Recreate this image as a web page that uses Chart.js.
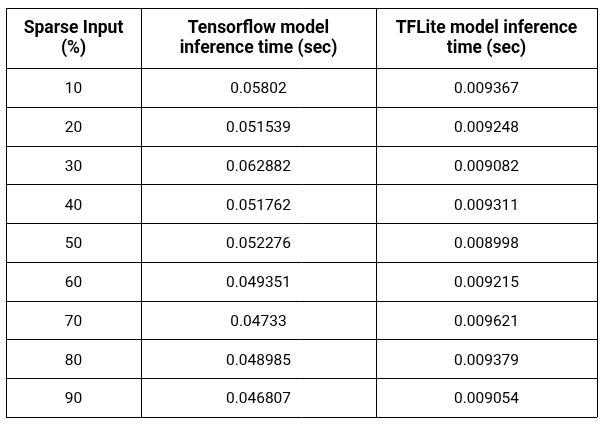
<!DOCTYPE html>
<html><head><meta charset="utf-8">
<script src="https://cdn.jsdelivr.net/npm/chart.js@4/dist/chart.umd.min.js"></script>
<style>html,body{margin:0;padding:0;background:#fff}</style>
</head><body>
<canvas id="c" width="611" height="428"></canvas>
<script>
const headers = [["Sparse Input","(%)"],["Tensorflow model","inference time (sec)"],["TFLite model inference","time (sec)"]];
const sparseInput = ["10","20","30","40","50","60","70","80","90"];
const tfTime = ["0.05802","0.051539","0.062882","0.051762","0.052276","0.049351","0.04733","0.048985","0.046807"];
const tfliteTime = ["0.009367","0.009248","0.009082","0.009311","0.008998","0.009215","0.009621","0.009379","0.009054"];

const colEdges = [6, 141, 376, 597];
const headTop = 8, headBottom = 68, tableBottom = 417;

const tablePlugin = {
  id: 'table',
  afterDraw(chart) {
    const ctx = chart.ctx, xs = chart.scales.x, ys = chart.scales.y;
    const X = v => xs.getPixelForValue(v), Y = v => ys.getPixelForValue(v);
    const n = sparseInput.length;
    const rowH = (tableBottom - headBottom) / n;
    const rowEdges = [headTop, headBottom];
    for (let i = 1; i <= n; i++) rowEdges.push(headBottom + rowH * i);
    ctx.save();
    ctx.strokeStyle = '#000'; ctx.lineWidth = 1;
    rowEdges.forEach(r => { const y = Math.round(Y(r)) + 0.5; ctx.beginPath(); ctx.moveTo(X(colEdges[0]), y); ctx.lineTo(X(colEdges[3]), y); ctx.stroke(); });
    colEdges.forEach(c => { const x = Math.round(X(c)) + 0.5; ctx.beginPath(); ctx.moveTo(x, Y(headTop)); ctx.lineTo(x, Y(tableBottom)); ctx.stroke(); });
    ctx.fillStyle = '#000'; ctx.textAlign = 'center'; ctx.textBaseline = 'middle';
    ctx.font = 'bold 17.5px Roboto';
    const hc = (headTop + headBottom) / 2;
    headers.forEach((h, j) => {
      const cx = X((colEdges[j] + colEdges[j + 1]) / 2);
      ctx.fillText(h[0], cx, Y(hc - 9.5));
      ctx.fillText(h[1], cx, Y(hc + 10.5));
    });
    ctx.font = '15.5px Roboto';
    const cols = [sparseInput, tfTime, tfliteTime];
    for (let i = 0; i < n; i++) {
      const cy = Y(headBottom + rowH * (i + 0.5) + 2);
      cols.forEach((col, j) => ctx.fillText(col[i], X((colEdges[j] + colEdges[j + 1]) / 2), cy));
    }
    ctx.restore();
  }
};

new Chart(document.getElementById('c'), {
  type: 'scatter',
  data: { datasets: [{ data: [] }] },
  options: {
    responsive: false, animation: false,
    layout: { padding: 0 },
    plugins: { legend: { display: false }, tooltip: { enabled: false } },
    scales: {
      x: { type: 'linear', min: 0, max: 611, display: false },
      y: { type: 'linear', min: 0, max: 428, reverse: true, display: false }
    }
  },
  plugins: [tablePlugin]
});
</script>
</body></html>
